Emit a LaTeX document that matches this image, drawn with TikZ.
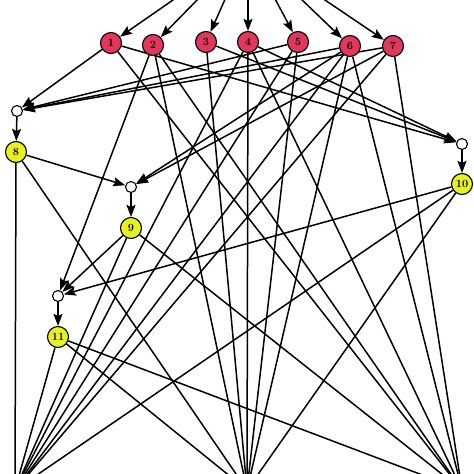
\documentclass[tikz,border=0pt]{standalone}
\usetikzlibrary{arrows.meta,backgrounds}
\definecolor{nred}{RGB}{226,54,92}
\definecolor{nyel}{RGB}{232,240,30}
\begin{document}
\begin{tikzpicture}[x=1pt,y=-1pt,
  inp/.style={circle,draw=black,line width=1.1pt,fill=nred,minimum size=21pt,inner sep=0pt,font=\fontsize{11}{12}\selectfont\bfseries},
  hid/.style={circle,draw=black,line width=1.1pt,fill=nyel,minimum size=21pt,inner sep=0pt,font=\fontsize{11}{12}\selectfont\bfseries},
  mrg/.style={circle,draw=black,line width=1.1pt,fill=white,minimum size=11pt,inner sep=0pt},
  edge/.style={line width=1.5pt},
  arr/.style={edge,-{Stealth[length=12pt,width=9pt,inset=2pt]}}]
\useasboundingbox (0,0) rectangle (474,474);
% input source and output sinks (outside the view)
\coordinate (S) at (248,-52);
\coordinate (L) at (15,490);
\coordinate (M) at (247,490);
\coordinate (R) at (462,490);
% nodes
\node[inp] (n1) at (111,43) {1};
\node[inp] (n2) at (153,45) {2};
\node[inp] (n3) at (206,42) {3};
\node[inp] (n4) at (248,42) {4};
\node[inp] (n5) at (298,42) {5};
\node[inp] (n6) at (350,46) {6};
\node[inp] (n7) at (393,46) {7};
\node[mrg] (mA) at (17,111) {};
\node[hid] (n8) at (16,152) {8};
\node[mrg] (mB) at (131,187) {};
\node[hid] (n9) at (131,228) {9};
\node[mrg] (mC) at (462,144) {};
\node[hid] (n10) at (462,184) {10};
\node[mrg] (mD) at (58,296) {};
\node[hid] (n11) at (58,337) {11};
\begin{scope}[on background layer]
\clip (0,0) rectangle (474,474);
% inputs from above
\foreach \i in {1,...,7} \draw[arr] (S) -- (n\i);
% merges to hidden
\draw[arr] (mA) -- (n8);
\draw[arr] (mB) -- (n9);
\draw[arr] (mC) -- (n10);
\draw[arr] (mD) -- (n11);
% into merge A
\foreach \i in {n1,n5,n6,n7} \draw[arr] (\i) -- (mA);
% into merge B
\foreach \i in {n8,n6,n7} \draw[arr] (\i) -- (mB);
% into merge C
\foreach \i in {n1,n3,n4} \draw[arr] (\i) -- (mC);
% into merge D
\foreach \i in {n2,n9,n10} \draw[arr] (\i) -- (mD);
% to left output
\foreach \i in {n8,n4,n5,n6,n7,n9,n10,n11} \draw[edge] (\i) -- (L);
% to middle output
\foreach \i in {n2,n3,n4,n5,n6,n8,n10,n11} \draw[edge] (\i) -- (M);
% to right output
\foreach \i in {n1,n2,n4,n6,n7,n9,n11} \draw[edge] (\i) -- (R);
\end{scope}
\end{tikzpicture}
\end{document}
